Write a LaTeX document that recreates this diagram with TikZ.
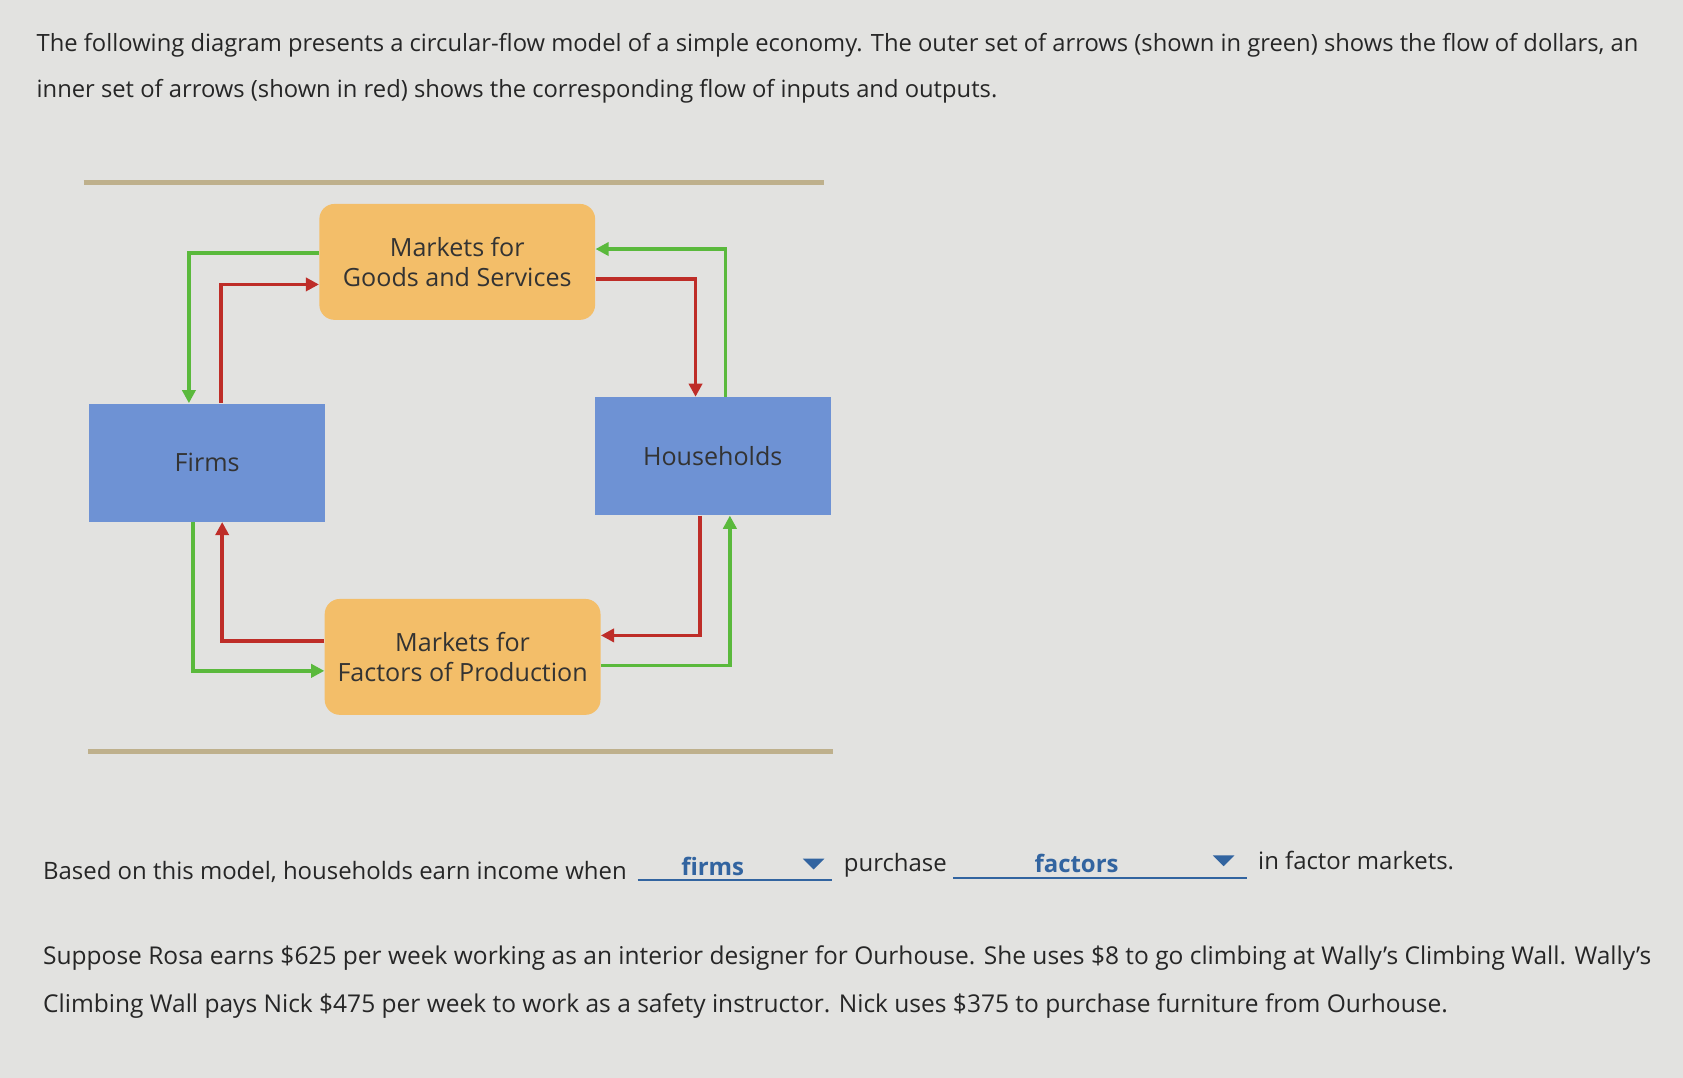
\documentclass[tikz,border=0pt]{standalone}
\usepackage{fontspec}
\setmainfont{Open Sans}
\usetikzlibrary{arrows.meta}
\definecolor{bg}{RGB}{226,226,224}
\definecolor{gold}{RGB}{190,176,140}
\definecolor{orng}{RGB}{243,190,105}
\definecolor{blu}{RGB}{110,146,212}
\definecolor{grn}{RGB}{90,185,60}
\definecolor{rd}{RGB}{190,45,40}
\definecolor{ddblue}{RGB}{50,100,160}
\tikzset{
 market/.style={draw=none,fill=orng,rounded corners=8pt,minimum width=5.14cm,minimum height=2.16cm,align=center,font=\fontsize{13.3}{16}\selectfont,text=black!80},
 agent/.style={draw=none,fill=blu,minimum width=4.4cm,minimum height=2.2cm,font=\fontsize{13.3}{16}\selectfont,text=black!80},
 gflow/.style={draw=grn,line width=2pt,-{Triangle[length=7pt,width=7pt]}},
 rflow/.style={draw=rd,line width=2pt,-{Triangle[length=7pt,width=7pt]}},
 body/.style={anchor=west,font=\fontsize{13}{16}\selectfont,text=black!85},
 headtext/.style={anchor=west,font=\fontsize{12.6}{16}\selectfont,text=black!85},
 qtext/.style={anchor=west,font=\fontsize{12.7}{15}\selectfont,text=black!85},
 ddtext/.style={font=\fontsize{12.7}{15}\selectfont\bfseries,text=ddblue},
}
\begin{document}
\begin{tikzpicture}[x=0.02cm,y=-0.02cm]
\fill[bg] (0,0) rectangle (1568,1004);
\useasboundingbox (0,0) rectangle (1568,1004);
\node[headtext] (t1) at (28,42) {The following diagram presents a circular-flow model of a simple economy. The outer set of arrows (shown in green) shows the flow of dollars, an};
\node[headtext] (t2) at (28,85) {inner set of arrows (shown in red) shows the corresponding flow of inputs and outputs.};
\draw[gold,line width=3pt] (78,170) -- (768,170);
\draw[gold,line width=3pt] (82,700) -- (776,700);
\node[market] (goods) at (426,244) {Markets for\\Goods and Services};
\node[market] (fact) at (431,612) {Markets for\\Factors of Production};
\node[agent] (firms) at (193,431) {Firms};
\node[agent] (hh) at (664,425) {Households};
\coordinate (a1) at (176,236); \coordinate (a2) at (676,232);
\coordinate (a3) at (180,625); \coordinate (a4) at (680,620);
\draw[gflow] (goods.west |- a1) -- (a1) -- (firms.north -| a1);
\draw[gflow] (hh.north -| a2) -- (a2) -- (goods.east |- a2);
\draw[gflow] (firms.south -| a3) -- (a3) -- (fact.west |- a3);
\draw[gflow] (fact.east |- a4) -- (a4) -- (hh.south -| a4);
\coordinate (b1) at (206,265); \coordinate (b2) at (648,260);
\coordinate (b3) at (652,592); \coordinate (b4) at (207,597);
\draw[rflow] (firms.north -| b1) -- (b1) -- (goods.west |- b1);
\draw[rflow] (goods.east |- b2) -- (b2) -- (hh.north -| b2);
\draw[rflow] (hh.south -| b3) -- (b3) -- (fact.east |- b3);
\draw[rflow] (fact.west |- b4) -- (b4) -- (firms.south -| b4);
\node[qtext] (q1) at (34,812) {Based on this model, households earn income when};
\node[ddtext] (d1) at (664,807) {firms};
\draw[ddblue,line width=1.2pt] (594,820) -- (775,820);
\fill[ddblue] (748,800) -- (768,800) -- (758,810) -- cycle;
\node[qtext] (q2) at (780,806) {purchase};
\node[ddtext] (d2) at (1003,804) {factors};
\draw[ddblue,line width=1.2pt] (888,818) -- (1162,818);
\fill[ddblue] (1130,797) -- (1150,797) -- (1140,807) -- cycle;
\node[qtext] (q3) at (1166,802) {in factor markets.};
\node[body] (p1) at (34,893) {Suppose Rosa earns \$625 per week working as an interior designer for Ourhouse. She uses \$8 to go climbing at Wally's Climbing Wall. Wally's};
\node[body] (p2) at (34,937) {Climbing Wall pays Nick \$475 per week to work as a safety instructor. Nick uses \$375 to purchase furniture from Ourhouse.};
\end{tikzpicture}
\end{document}
